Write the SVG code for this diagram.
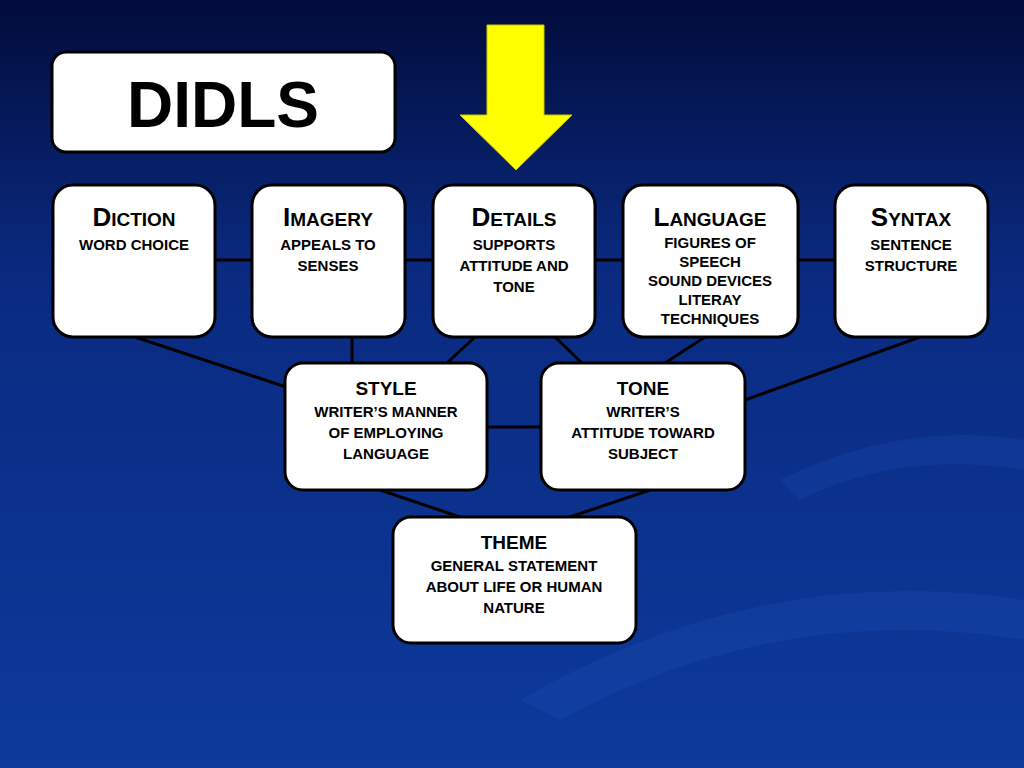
<svg xmlns="http://www.w3.org/2000/svg" width="1024" height="768" viewBox="0 0 1024 768">
<defs>
<linearGradient id="bg" x1="0" y1="0" x2="0" y2="1">
<stop offset="0" stop-color="#020c3c"/>
<stop offset="0.35" stop-color="#0a2a80"/>
<stop offset="1" stop-color="#0d3a9c"/>
</linearGradient>
<style>
.box{fill:#fff;stroke:#000;stroke-width:3}
.ln{stroke:#000;stroke-width:3;fill:none}
text{font-family:"Liberation Sans",Arial,sans-serif;font-weight:bold;fill:#000;text-anchor:middle}
.h{font-size:19px}
.c{font-size:26px}
.s{font-size:15px}
</style>
</defs>
<rect width="1024" height="768" fill="url(#bg)"/>
<path d="M520 700 Q760 560 1024 600 L1024 640 Q780 600 560 720 Z" fill="#1a4ab0" opacity="0.35"/>
<path d="M780 480 Q900 420 1024 440 L1024 470 Q900 450 800 500 Z" fill="#1a4ab0" opacity="0.3"/>
<g id="connectors">
<line class="ln" x1="215" y1="260" x2="252" y2="260"/>
<line class="ln" x1="405" y1="260" x2="433" y2="260"/>
<line class="ln" x1="595" y1="260" x2="623" y2="260"/>
<line class="ln" x1="798" y1="260" x2="835" y2="260"/>
<line class="ln" x1="135" y1="337" x2="286" y2="387"/>
<line class="ln" x1="352" y1="337" x2="352" y2="363"/>
<line class="ln" x1="475" y1="337" x2="447" y2="363"/>
<line class="ln" x1="555" y1="337" x2="582" y2="363"/>
<line class="ln" x1="705" y1="337" x2="665" y2="363"/>
<line class="ln" x1="920" y1="337" x2="745" y2="400"/>
<line class="ln" x1="487" y1="427" x2="541" y2="427"/>
<line class="ln" x1="380" y1="490" x2="460" y2="517"/>
<line class="ln" x1="650" y1="490" x2="570" y2="517"/>
</g>
<g id="arrow"><path d="M487 25 H544 V115 H572 L516 170 L460 115 H487 Z" fill="#ffff00" stroke="#c8c800" stroke-width="1"/></g>
<g id="didls"><rect class="box" x="52" y="52" width="343" height="100" rx="14"/><text x="223" y="127" style="font-size:64px">DIDLS</text></g>
<g id="diction"><rect class="box" x="53" y="185" width="162" height="152" rx="20"/><text x="134" y="226" class="h"><tspan class="c">D</tspan>ICTION</text><text x="134" y="250" class="s">WORD CHOICE</text></g>
<g id="imagery"><rect class="box" x="252" y="185" width="153" height="152" rx="20"/><text x="328" y="226" class="h"><tspan class="c">I</tspan>MAGERY</text><text x="328" y="250" class="s">APPEALS TO</text><text x="328" y="271" class="s">SENSES</text></g>
<g id="details"><rect class="box" x="433" y="185" width="162" height="152" rx="20"/><text x="514" y="226" class="h"><tspan class="c">D</tspan>ETAILS</text><text x="514" y="250" class="s">SUPPORTS</text><text x="514" y="271" class="s">ATTITUDE AND</text><text x="514" y="292" class="s">TONE</text></g>
<g id="language"><rect class="box" x="623" y="185" width="175" height="152" rx="20"/><text x="710" y="226" class="h"><tspan class="c">L</tspan>ANGUAGE</text><text x="710" y="248" class="s">FIGURES OF</text><text x="710" y="267" class="s">SPEECH</text><text x="710" y="286" class="s">SOUND DEVICES</text><text x="710" y="305" class="s">LITERAY</text><text x="710" y="324" class="s">TECHNIQUES</text></g>
<g id="syntax"><rect class="box" x="835" y="185" width="153" height="152" rx="20"/><text x="911" y="226" class="h"><tspan class="c">S</tspan>YNTAX</text><text x="911" y="250" class="s">SENTENCE</text><text x="911" y="271" class="s">STRUCTURE</text></g>
<g id="style"><rect class="box" x="285" y="363" width="202" height="127" rx="18"/><text x="386" y="395" class="h">STYLE</text><text x="386" y="417" class="s">WRITER’S MANNER</text><text x="386" y="438" class="s">OF EMPLOYING</text><text x="386" y="459" class="s">LANGUAGE</text></g>
<g id="tone"><rect class="box" x="541" y="363" width="204" height="127" rx="18"/><text x="643" y="395" class="h">TONE</text><text x="643" y="417" class="s">WRITER’S</text><text x="643" y="438" class="s">ATTITUDE TOWARD</text><text x="643" y="459" class="s">SUBJECT</text></g>
<g id="theme"><rect class="box" x="393" y="517" width="243" height="126" rx="18"/><text x="514" y="549" class="h">THEME</text><text x="514" y="571" class="s">GENERAL STATEMENT</text><text x="514" y="592" class="s">ABOUT LIFE OR HUMAN</text><text x="514" y="613" class="s">NATURE</text></g>
</svg>
